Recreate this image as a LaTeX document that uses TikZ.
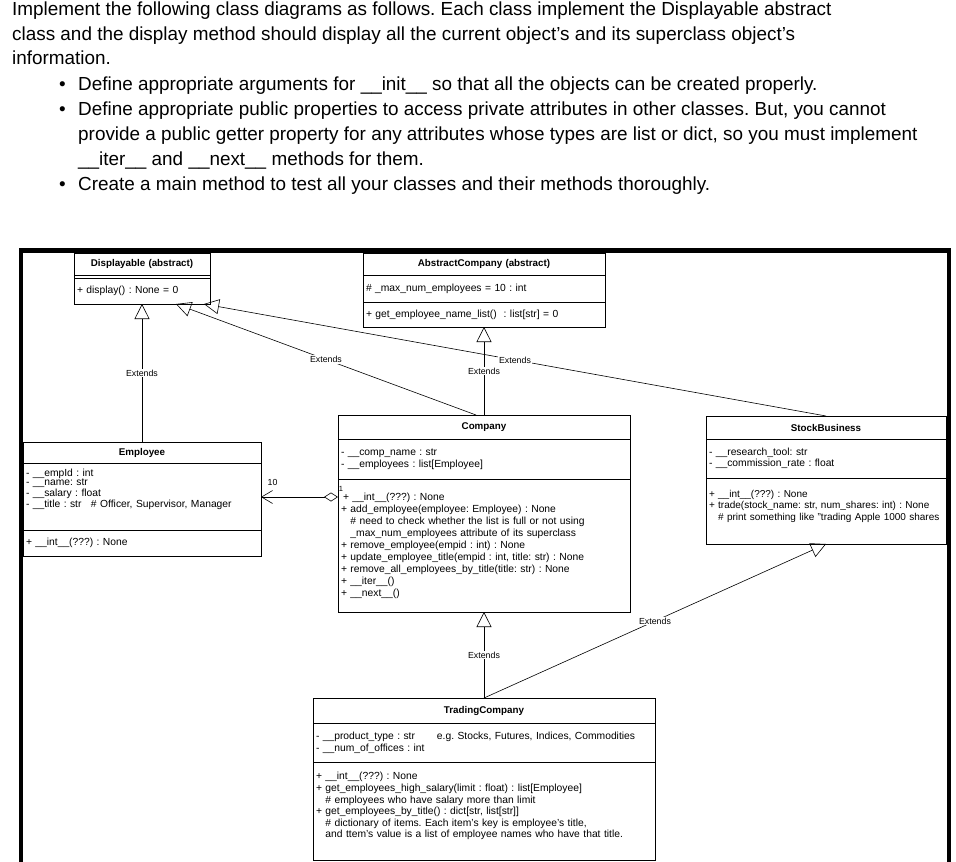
\documentclass[tikz,border=0pt]{standalone}
\usepackage{fontspec}
\setmainfont{Liberation Sans}
\usetikzlibrary{positioning,arrows.meta}
\frenchspacing
\tikzset{
  toptext/.style={anchor=base west, inner sep=0pt, font=\fontsize{18.9}{25}\selectfont},
  umlbox/.style={draw, line width=0.7pt, outer sep=0pt, inner xsep=3pt, inner ysep=0pt, align=left, font=\fontsize{10.3}{12}\selectfont},
  umlhead/.style={umlbox, align=center, font=\bfseries\fontsize{9.8}{12}\selectfont},
  extends/.style={-{Triangle[open, length=15pt, width=15pt]}, line width=0.6pt},
  extlabel/.style={fill=white, inner sep=1pt, font=\fontsize{8.8}{10}\selectfont},
  agg/.style={{Diamond[open, length=14pt, width=9pt]}-{Straight Barb[length=11pt, width=13pt]}, line width=0.6pt},
  multlabel/.style={inner sep=0.5pt, font=\fontsize{8.8}{10}\selectfont},
}
\begin{document}
\begin{tikzpicture}[x=1pt, y=-1pt]
\useasboundingbox (0,0) rectangle (956,862);

\node[toptext] (intro1) at (12,15) {Implement the following class diagrams as follows. Each class implement the Displayable abstract};
\node[toptext] (intro2) at (12,40) {class and the display method should display all the current object's and its superclass object's};
\node[toptext] (intro3) at (12,64) {information.};
\node[toptext] (dot1) at (59,90) {\textbullet};
\node[toptext] (item1) at (78,90) {Define appropriate arguments for \_\_init\_\_ so that all the objects can be created properly.};
\node[toptext] (dot2) at (59,115) {\textbullet};
\node[toptext] (item2a) at (78,115) {Define appropriate public properties to access private attributes in other classes. But, you cannot};
\node[toptext] (item2b) at (78,140) {provide a public getter property for any attributes whose types are list or dict, so you must implement};
\node[toptext] (item2c) at (78,165) {\_\_iter\_\_ and \_\_next\_\_ methods for them.};
\node[toptext] (dot3) at (59,190) {\textbullet};
\node[toptext] (item3) at (78,190) {Create a main method to test all your classes and their methods thoroughly.};

\draw[line width=4.8pt] (21,880) -- (21,250.5) -- (949,250.5) -- (949,880);

% Displayable
\node[umlhead, text width=130pt, minimum height=22pt, anchor=north west] (dispH) at (74,253) {Displayable (abstract)};
\node[umlbox, text width=130pt, minimum height=3pt, below=0pt of dispH] (dispA) {};
\node[umlbox, text width=130pt, minimum height=26pt, below=0pt of dispA] (dispM) {+ display() : None = 0};

% AbstractCompany
\node[umlhead, text width=236pt, minimum height=22pt, anchor=north west] (absH) at (363,253) {AbstractCompany (abstract)};
\node[umlbox, text width=236pt, minimum height=27pt, below=0pt of absH] (absA) {\# \_max\_num\_employees = 10 : int};
\node[umlbox, text width=236pt, minimum height=25pt, below=0pt of absA] (absM) {+ get\_employee\_name\_list()~~: list[str] = 0};

% Employee
\node[umlhead, text width=232pt, minimum height=21pt, anchor=north west] (empH) at (23,442) {Employee};
\node[umlbox, text width=232pt, minimum height=67pt, below=0pt of empH, font=\fontsize{10.3}{8.6}\selectfont] (empA) {- \_\_empId : int\\
- \_\_name: str\\
- \_\_salary : float\\
\makebox[65pt][l]{- \_\_title : str}\# Officer, Supervisor, Manager\\
\mbox{}\\
\mbox{}};
\node[umlbox, text width=232pt, minimum height=26pt, below=0pt of empA] (empM) {+ \_\_int\_\_(???) : None};

% Company
\node[umlhead, text width=286pt, minimum height=24pt, anchor=north west] (compH) at (338,415) {Company};
\node[umlbox, text width=286pt, minimum height=40pt, below=0pt of compH] (compA) {- \_\_comp\_name : str\\
- \_\_employees : list[Employee]};
\node[umlbox, text width=286pt, minimum height=133pt, below=0pt of compA] (compM) {\hspace*{2pt}+ \_\_int\_\_(???) : None\\
+ add\_employee(employee: Employee) : None\\
\phantom{+~}\# need to check whether the list is full or not using\\
\phantom{+~}\_max\_num\_employees attribute of its superclass\\
+ remove\_employee(empid : int) : None\\
+ update\_employee\_title(empid : int, title: str) : None\\
+ remove\_all\_employees\_by\_title(title: str) : None\\
+ \_\_iter\_\_()\\
+ \_\_next\_\_()};

% StockBusiness
\node[umlhead, text width=234pt, minimum height=23pt, anchor=north west] (stockH) at (706,416) {StockBusiness};
\node[umlbox, text width=234pt, minimum height=39pt, below=0pt of stockH, font=\fontsize{10.3}{10.5}\selectfont] (stockA) {- \_\_research\_tool: str\\
- \_\_commission\_rate : float};
\node[umlbox, text width=234pt, minimum height=66pt, below=0pt of stockA, font=\fontsize{10}{11.5}\selectfont] (stockM) {+ \_\_int\_\_(???) : None\\
+ trade(stock\_name: str, num\_shares: int) : None\\
\phantom{+~}\mbox{\# print something like "trading Apple 1000 shares}\\
\mbox{}};

% TradingCompany
\node[umlhead, text width=336pt, minimum height=25pt, anchor=north west] (tradeH) at (313,698) {TradingCompany};
\node[umlbox, text width=336pt, minimum height=39pt, below=0pt of tradeH] (tradeA) {\makebox[121pt][l]{- \_\_product\_type : str}e.g. Stocks, Futures, Indices, Commodities\\
- \_\_num\_of\_offices : int};
\node[umlbox, text width=336pt, minimum height=98pt, below=0pt of tradeA, font=\fontsize{10.3}{11.6}\selectfont] (tradeM) {+ \_\_int\_\_(???) : None\\
+ get\_employees\_high\_salary(limit : float) : list[Employee]\\
\phantom{+~}\# employees who have salary more than limit\\
+ get\_employees\_by\_title() : dict[str, list[str]]\\
\phantom{+~}\# dictionary of items. Each item's key is employee's title,\\
\phantom{+~}and ttem's value is a list of employee names who have that title.\\
\mbox{}};

\coordinate (dispIn1) at ([xshift=-34pt]dispM.south east);
\coordinate (dispIn2) at ([xshift=-6pt]dispM.south east);
\coordinate (compOut) at ([xshift=-8pt]compH.north);
\coordinate (aggC) at ([yshift=-18pt]compM.north west);

\draw[extends] (empH.north) -- (dispM.south) node[extlabel, midway] (ext1) {Extends};
\draw[extends] (compOut) -- (dispIn1) node[extlabel, pos=0.5] (ext2) {Extends};
\draw[extends] (compH.north) -- (absM.south) node[extlabel, pos=0.5] (ext3) {Extends};
\draw[extends] (stockH.north) -- (dispIn2) node[extlabel, pos=0.5] (ext4) {Extends};
\draw[extends] (tradeH.north) -- (compM.south) node[extlabel, pos=0.5] (ext5) {Extends};
\draw[extends] (tradeH.north) -- (stockM.south) node[extlabel, pos=0.5] (ext6) {Extends};

\draw[agg] (aggC) -- (aggC -| empA.east)
  node[multlabel, pos=0, anchor=south west, yshift=5pt, font=\fontsize{7.5}{8}\selectfont] (multOne) {1}
  node[multlabel, pos=0.85, above=11pt] (multTen) {10};
\end{tikzpicture}
\end{document}
